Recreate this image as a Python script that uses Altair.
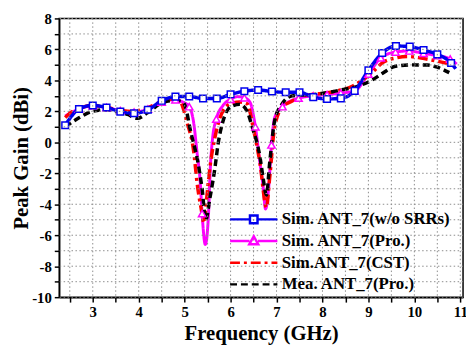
import altair as alt
import pandas as pd

FONT = "Liberation Serif"

series_names = ["Sim. ANT_7(w/o SRRs)", "Sim. ANT_7(Pro.)", "Sim.ANT_7(CST)", "Mea. ANT_7(Pro.)"]
series_colors = ["#0000ee", "#ff00ff", "#ff0000", "#000000"]

# Sim. ANT_7 (w/o SRRs)  -- blue, square markers
blue_f = [2.4, 2.7, 3.0, 3.3, 3.6, 3.9, 4.2, 4.5, 4.8, 5.1, 5.4, 5.7, 6.0, 6.3, 6.6,
          6.9, 7.2, 7.5, 7.8, 8.1, 8.4, 8.7, 9.0, 9.3, 9.6, 9.9, 10.2, 10.5, 10.8, 10.9]
blue_g = [1.1, 2.15, 2.38, 2.25, 1.98, 1.88, 2.1, 2.68, 2.95, 2.96, 2.83, 2.83, 3.1, 3.3, 3.38,
          3.28, 3.23, 3.23, 2.92, 2.8, 2.84, 3.32, 4.65, 5.77, 6.22, 6.18, 5.96, 5.68, 5.12, 4.75]
blue_mark = [1] * 29 + [0]

# Sim. ANT_7 (Pro.)  -- magenta, triangle markers
mag_f = [2.4, 2.7, 3.0, 3.3, 3.6, 3.9, 4.2, 4.5, 4.8, 4.96, 5.1, 5.2, 5.27, 5.34, 5.38, 5.45,
         5.52, 5.56, 5.61, 5.69, 5.84, 6.0, 6.15, 6.3, 6.42, 6.54, 6.64, 6.71, 6.76, 6.83, 6.89,
         6.96, 7.13, 7.48, 7.8, 8.1, 8.4, 8.7, 9.0, 9.27, 9.59, 9.89, 10.2, 10.5, 10.78, 10.92]
mag_g = [1.7, 2.15, 2.35, 2.25, 2.05, 1.95, 2.15, 2.6, 2.75, 2.6, 2.3, 1.2, -0.66, -2.6, -4.6, -6.6,
         -4.6, -1.6, 0.3, 1.5, 2.4, 2.78, 2.95, 2.88, 2.6, 1.0, -1.35, -2.9, -4.3, -2.9, -0.17,
         1.6, 2.3, 2.85, 3.0, 3.08, 3.18, 3.32, 4.4, 5.45, 5.83, 5.9, 5.74, 5.6, 5.38, 5.05]
mag_mark = [0, 1, 1, 1, 1, 1, 1, 1, 1, 0, 1, 0, 0, 0, 1, 0,
            0, 0, 0, 1, 0, 1, 0, 1, 0, 1, 0, 0, 0, 0, 1,
            0, 1, 1, 1, 1, 1, 1, 1, 1, 1, 1, 1, 1, 1, 0]

# Sim. ANT_7 (CST)  -- red dash-dot
red_f = [2.4, 2.47, 2.71, 2.99, 3.27, 3.55, 3.84, 4.12, 4.47, 4.75, 4.89, 5.05, 5.2, 5.27, 5.36,
         5.42, 5.48, 5.55, 5.66, 5.76, 5.9, 6.05, 6.2, 6.36, 6.5, 6.64, 6.78, 6.85, 6.96, 7.13,
         7.3, 7.55, 7.8, 8.1, 8.4, 8.61, 8.89, 9.1, 9.31, 9.59, 9.87, 10.15, 10.5, 10.92]
red_g = [1.6, 1.8, 2.2, 2.39, 2.29, 2.1, 2.0, 2.14, 2.59, 2.79, 2.68, 1.3, -0.66, -2.6, -4.3,
         -5.2, -3.6, -1.64, 0.32, 1.5, 2.3, 2.55, 2.6, 2.49, 0.82, -1.35, -4.2, -2.33, 1.0, 2.29,
         2.6, 2.98, 3.1, 3.2, 3.38, 3.57, 4.06, 4.56, 5.15, 5.44, 5.54, 5.44, 5.24, 4.95]

# Mea. ANT_7 (Pro.)  -- black dashed
black_f = [2.4, 2.71, 2.99, 3.27, 3.55, 3.76, 3.97, 4.19, 4.47, 4.75, 4.9, 4.99, 5.13, 5.31, 5.38,
           5.46, 5.55, 5.66, 5.73, 5.83, 6.0, 6.2, 6.36, 6.47, 6.64, 6.71, 6.78, 6.85, 6.96, 7.1,
           7.34, 7.76, 8.05, 8.4, 8.82, 9.1, 9.31, 9.59, 9.94, 10.29, 10.5, 10.76]
black_g = [1.0, 1.6, 2.0, 2.1, 2.0, 1.8, 1.55, 1.9, 2.49, 2.69, 2.65, 2.49, 0.72, -1.64, -3.0,
           -5.0, -3.6, -1.64, -0.07, 1.31, 2.3, 2.45, 2.0, 1.0, -0.95, -2.33, -3.4, -1.35, 1.4, 2.39,
           3.0, 3.08, 3.18, 3.38, 3.67, 4.06, 4.46, 4.91, 5.0, 4.99, 4.85, 4.5]

x_ticks = [2.5, 3, 3.5, 4, 4.5, 5, 5.5, 6, 6.5, 7, 7.5, 8, 8.5, 9, 9.5, 10, 10.5, 11]
y_ticks = list(range(-10, 9))

rows = []
for name, fs, gs, ms in [
    (series_names[0], blue_f, blue_g, blue_mark),
    (series_names[1], mag_f, mag_g, mag_mark),
    (series_names[2], red_f, red_g, [0] * len(red_f)),
    (series_names[3], black_f, black_g, [0] * len(black_f)),
]:
    for f, g, m in zip(fs, gs, ms):
        rows.append({"series": name, "f": f, "g": g, "mark": m})
df = pd.DataFrame(rows)
xgrid_df = pd.DataFrame({"f": x_ticks})
ygrid_df = pd.DataFrame({"g": y_ticks})

xs = alt.Scale(domain=[2.27, 11.06], nice=False, zero=False)
ys = alt.Scale(domain=[-10, 8], nice=False, zero=False)
color_scale = alt.Scale(domain=series_names, range=series_colors)
dash_scale = alt.Scale(domain=series_names, range=[[1, 0], [1, 0], [10, 4, 3, 4], [7, 4]])
# legend symbols: line + marker drawn as one path, in a [-1, 1] box
shape_scale = alt.Scale(domain=series_names, range=[
    "M-1,0H-0.16M0.16,0H1M-0.16,-0.16H0.16V0.16H-0.16Z",
    "M-1,0H-0.18M0.18,0H1M0,-0.2L0.19,0.14H-0.19Z",
    "M-1,0H1",
    "M-1,0H1",
])

x_axis = alt.Axis(
    values=x_ticks, title="Frequency (GHz)",
    labelExpr="datum.value % 1 == 0 ? '' + datum.value : ''",
    titlePadding=3,
)
y_axis = alt.Axis(
    values=y_ticks, title="Peak Gain (dBi)",
    labelExpr="datum.value % 2 == 0 ? '' + datum.value : ''",
    titlePadding=0,
)

legend = alt.Legend(
    title=None, orient="none", legendX=172, legendY=195, padding=0,
    labelFont=FONT, labelFontSize=17, labelFontWeight="bold", labelColor="black",
    labelLimit=0, labelOffset=3, symbolSize=2304, symbolStrokeWidth=2.5,
    symbolFillColor="white", symbolOpacity=1,
    clipHeight=18, rowPadding=4,
)

X = alt.X("f:Q", scale=xs, axis=x_axis)
Y = alt.Y("g:Q", scale=ys, axis=y_axis)

# dotted grid, one rule per tick value (drawn last so nothing can hide it)
xgrid = alt.Chart(xgrid_df).mark_rule(
    color="#8c8c8c", strokeWidth=1, strokeDash=[1.5, 2.5], opacity=1
).encode(x=X)
ygrid = alt.Chart(ygrid_df).mark_rule(
    color="#8c8c8c", strokeWidth=1, strokeDash=[1.5, 2.5], opacity=1
).encode(y=Y)

legend_layer = alt.Chart(df).transform_filter("false").mark_point().encode(
    x=X, y=Y,
    shape=alt.Shape("series:N", scale=shape_scale, legend=legend),
    color=alt.Color("series:N", scale=color_scale, legend=legend),
)


def line_layer(idx, width):
    return alt.Chart(df).transform_filter(
        alt.datum.series == series_names[idx]
    ).mark_line(interpolate="monotone", strokeWidth=width).encode(
        x=X, y=Y,
        color=alt.Color("series:N", scale=color_scale, legend=None),
        strokeDash=alt.StrokeDash("series:N", scale=dash_scale, legend=legend),
    )


def marker_layer(idx, shape, size):
    return alt.Chart(df).transform_filter(
        (alt.datum.series == series_names[idx]) & (alt.datum.mark == 1)
    ).mark_point(shape=shape, size=size, filled=True, fill="white",
                 stroke=series_colors[idx], strokeWidth=1.5, opacity=1).encode(x=X, y=Y)


chart = alt.layer(
    legend_layer,
    line_layer(1, 3),
    line_layer(2, 3.5),
    line_layer(3, 3.5),
    line_layer(0, 3.5),
    marker_layer(1, "triangle-up", 55),
    marker_layer(0, "square", 45),
    xgrid,
    ygrid,
).properties(
    width=410, height=283,
    autosize=alt.AutoSizeParams(type="none"),
    padding={"left": 52, "top": 8, "right": 3, "bottom": 49},
).configure(
    background="white"
).configure_view(
    stroke="black", strokeWidth=1.5
).configure_axis(
    grid=False,
    tickColor="black", tickWidth=1.5, tickSize=5, domainColor="black", domainWidth=1.5,
    labelFont=FONT, labelFontSize=15, labelFontWeight="bold", labelColor="black",
    labelPadding=3, labelFlush=False, labelOverlap=False,
    titleFont=FONT, titleFontSize=21, titleFontWeight="bold", titleColor="black",
)

chart.save("out.html", embed_options={"renderer": "svg", "actions": False})
